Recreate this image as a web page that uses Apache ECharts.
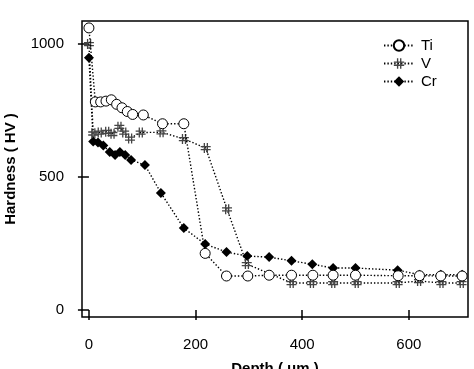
<!DOCTYPE html>
<html><head><meta charset="utf-8">
<script src="https://cdn.jsdelivr.net/npm/echarts@6/dist/echarts.min.js"></script>
<style>html,body{margin:0;padding:0;background:#fff}#c{width:474px;height:369px}</style>
</head><body><div id="c"></div>
<script>
const tiX = [0, 12, 22, 32, 42, 52, 62, 72, 82, 102, 138, 178, 218, 258, 298, 338, 380, 420, 458, 500, 580, 620, 660, 700];
const tiY = [1060, 782, 782, 785, 790, 773, 760, 746, 735, 733, 700, 700, 213, 128, 128, 131, 131, 131, 131, 131, 129, 129, 128, 128];
const vX = [0, 8, 20, 34, 44, 57, 66, 77, 97, 136, 178, 219, 259, 296, 380, 418, 458, 502, 579, 619, 661, 699];
const vY = [1000, 664, 667, 670, 662, 689, 667, 645, 667, 668, 643, 609, 379, 173, 102, 102, 102, 102, 102, 109, 102, 102];
const crX = [0, 8, 17, 27, 39, 49, 58, 68, 79, 105, 135, 178, 218, 258, 297, 338, 380, 419, 458, 500, 579, 620, 660, 700];
const crY = [948, 633, 630, 618, 594, 583, 594, 583, 564, 545, 440, 308, 248, 218, 203, 199, 185, 172, 158, 158, 150, 133, 133, 133];
const xTicks = [0, 200, 400, 600];
const yTicks = [0, 500, 1000];

const zip = (a, b) => a.map((v, i) => [v, b[i]]);
const hash = 'path://M3,0h1.3v10h-1.3z M6,0h1.3v10h-1.3z M0,3h10v1.3h-10z M0,6h10v1.3h-10z';
const font = '"Liberation Sans", Arial, sans-serif';
const dot = { color: '#000', width: 1.4, type: [1.4, 2] };
const plain = v => String(v);

const chart = echarts.init(document.getElementById('c'), null, { renderer: 'canvas' });
chart.setOption({
  animation: false,
  textStyle: { fontFamily: font },
  grid: { left: 82, top: 21, right: 6, bottom: 52, containLabel: false, outerBoundsMode: 'none',
    show: true, borderColor: '#000', borderWidth: 1.5, backgroundColor: 'transparent' },
  legend: {
    orient: 'vertical', left: 383, top: 38, padding: 0, itemGap: 3,
    itemWidth: 30, itemHeight: 13,
    textStyle: { fontSize: 15, color: '#000', fontFamily: font, padding: [0, 0, 0, 2] },
    data: ['Ti', 'V', 'Cr']
  },
  xAxis: {
    type: 'value', min: -13, max: 711,
    name: 'Depth ( μm )', nameLocation: 'middle', nameGap: 44,
    nameTextStyle: { fontSize: 15, fontWeight: 'bold', color: '#000', fontFamily: font },
    axisLine: { show: false },
    axisTick: { show: true, customValues: xTicks, length: 10, lineStyle: { color: '#000', width: 1.5 } },
    axisLabel: { customValues: xTicks, formatter: plain, fontSize: 15, color: '#000', margin: 20, fontFamily: font },
    splitLine: { show: false }
  },
  yAxis: {
    type: 'value', min: -26, max: 1086,
    name: 'Hardness ( HV )', nameLocation: 'middle', nameGap: 64, nameRotate: 90,
    nameTextStyle: { fontSize: 15, fontWeight: 'bold', color: '#000', fontFamily: font },
    axisLine: { show: false },
    axisTick: { show: true, customValues: yTicks, length: 11, lineStyle: { color: '#000', width: 1.5 } },
    axisLabel: { customValues: yTicks, formatter: plain, fontSize: 15, color: '#000', margin: 18, fontFamily: font },
    splitLine: { show: false }
  },
  series: [
    { name: 'Cr', type: 'line', data: zip(crX, crY), symbol: 'diamond', symbolSize: 10, z: 2,
      itemStyle: { color: '#000' }, lineStyle: dot },
    { name: 'V', type: 'line', data: zip(vX, vY), symbol: hash, symbolSize: 10, z: 3,
      itemStyle: { color: '#444' }, lineStyle: dot },
    { name: 'Ti', type: 'line', data: zip(tiX, tiY), symbol: 'circle', symbolSize: 10, z: 4,
      itemStyle: { color: '#fff', borderColor: '#000', borderWidth: 1 }, lineStyle: dot }
  ]
});
</script></body></html>
